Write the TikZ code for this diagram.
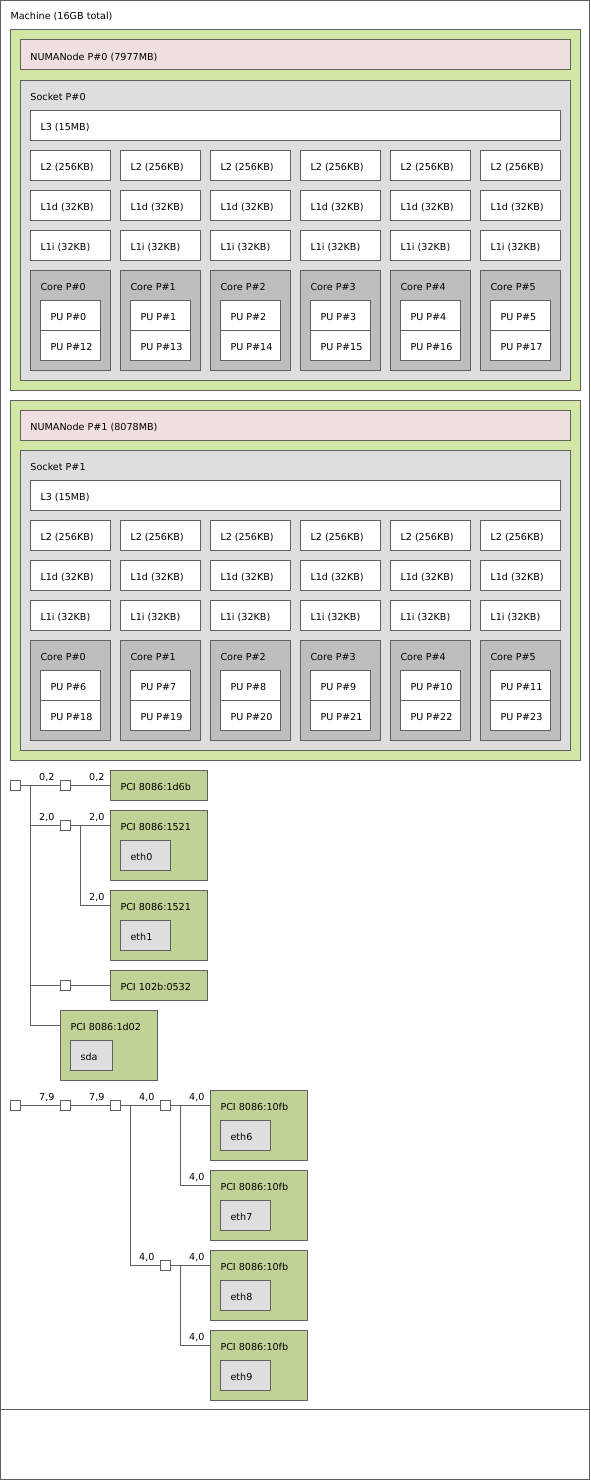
\documentclass[tikz,border=0pt]{standalone}
\usepackage{fontspec}
\setmainfont{DejaVu Sans}
\definecolor{numagreen}{RGB}{210, 231, 164}
\definecolor{mempink}{RGB}{239, 223, 222}
\definecolor{sockgray}{RGB}{222, 222, 222}
\definecolor{coregray}{RGB}{190, 190, 190}
\definecolor{pcigreen}{RGB}{192, 210, 150}
\definecolor{osdevgray}{RGB}{222, 222, 222}
\definecolor{edgegray}{RGB}{96, 96, 96}
\usepackage{tikz}
\usetikzlibrary{positioning, calc}
\newcommand{\lstfont}{\fontsize{9.6}{11}\selectfont}

\begin{document}
\begin{tikzpicture}[x=1pt, y=-1pt, line width=1pt,
  obj/.style={draw=edgegray, rectangle, inner sep=0pt, outer sep=0pt, anchor=north west},
  tag/.style={font=\lstfont, anchor=base west, inner sep=0pt},
  bridge/.style={obj, fill=white, minimum size=10},
  pcidev/.style={obj, fill=pcigreen, minimum width=97},
  osdev/.style={obj, fill=osdevgray, minimum height=30},
  wire/.style={draw=edgegray},
  link/.style={font=\lstfont, anchor=base east, inner sep=0pt, xshift=-5pt, yshift=5pt}]
  \useasboundingbox (0,0) rectangle (590,1480);

  % Machine and legend
  \node[obj, fill=white, minimum width=589, minimum height=1409] (machine) at (0.5,0.5) {};
  \node[tag] (machine-t) at (10,20) {Machine (16GB total)};
  \node[obj, fill=white, minimum width=589, minimum height=70] (legend) at (0.5,1409.5) {};

  % NUMA node 0
  \begin{scope}
    \node[obj, fill=numagreen, minimum width=570, minimum height=360] (numa0) at (10,30) {};
    \node[obj, fill=mempink, minimum width=550, minimum height=30] (mem0) at (20,40) {};
    \node[tag] (mem0-t) at (30,60) {NUMANode P\#0 (7977MB)};
    \node[obj, fill=sockgray, minimum width=550, minimum height=300] (sock0) at (20,80) {};
    \node[tag] (sock0-t) at (30,100) {Socket P\#0};
    \node[obj, fill=white, minimum width=530, minimum height=30] (l3-0) at (30,110) {};
    \node[tag] (l3-0-t) at (40,130) {L3 (15MB)};
    \foreach \i [evaluate=\i as \pa using int(\i), evaluate=\i as \pb using int(\i+12)] in {0,...,5} {
      \node[obj, fill=white, minimum width=80, minimum height=30] (s0-l2-\i) at (30+90*\i,150) {};
      \node[tag] (s0-l2-\i-t) at (40+90*\i,170) {L2 (256KB)};
      \node[obj, fill=white, minimum width=80, minimum height=30] (s0-l1d-\i) at (30+90*\i,190) {};
      \node[tag] (s0-l1d-\i-t) at (40+90*\i,210) {L1d (32KB)};
      \node[obj, fill=white, minimum width=80, minimum height=30] (s0-l1i-\i) at (30+90*\i,230) {};
      \node[tag] (s0-l1i-\i-t) at (40+90*\i,250) {L1i (32KB)};
      \node[obj, fill=coregray, minimum width=80, minimum height=100] (s0-core-\i) at (30+90*\i,270) {};
      \node[tag] (s0-core-\i-t) at (40+90*\i,290) {Core P\#\i};
      \node[obj, fill=white, minimum width=60, minimum height=30] (s0-pua-\i) at (40+90*\i,300) {};
      \node[tag] (s0-pua-\i-t) at (50+90*\i,320) {PU P\#\pa};
      \node[obj, fill=white, minimum width=60, minimum height=30] (s0-pub-\i) at (40+90*\i,330) {};
      \node[tag] (s0-pub-\i-t) at (50+90*\i,350) {PU P\#\pb};
    }
  \end{scope}

  % NUMA node 1
  \begin{scope}[shift={(0,370)}]
    \node[obj, fill=numagreen, minimum width=570, minimum height=360] (numa1) at (10,30) {};
    \node[obj, fill=mempink, minimum width=550, minimum height=30] (mem1) at (20,40) {};
    \node[tag] (mem1-t) at (30,60) {NUMANode P\#1 (8078MB)};
    \node[obj, fill=sockgray, minimum width=550, minimum height=300] (sock1) at (20,80) {};
    \node[tag] (sock1-t) at (30,100) {Socket P\#1};
    \node[obj, fill=white, minimum width=530, minimum height=30] (l3-1) at (30,110) {};
    \node[tag] (l3-1-t) at (40,130) {L3 (15MB)};
    \foreach \i [evaluate=\i as \pa using int(\i+6), evaluate=\i as \pb using int(\i+18)] in {0,...,5} {
      \node[obj, fill=white, minimum width=80, minimum height=30] (s1-l2-\i) at (30+90*\i,150) {};
      \node[tag] (s1-l2-\i-t) at (40+90*\i,170) {L2 (256KB)};
      \node[obj, fill=white, minimum width=80, minimum height=30] (s1-l1d-\i) at (30+90*\i,190) {};
      \node[tag] (s1-l1d-\i-t) at (40+90*\i,210) {L1d (32KB)};
      \node[obj, fill=white, minimum width=80, minimum height=30] (s1-l1i-\i) at (30+90*\i,230) {};
      \node[tag] (s1-l1i-\i-t) at (40+90*\i,250) {L1i (32KB)};
      \node[obj, fill=coregray, minimum width=80, minimum height=100] (s1-core-\i) at (30+90*\i,270) {};
      \node[tag] (s1-core-\i-t) at (40+90*\i,290) {Core P\#\i};
      \node[obj, fill=white, minimum width=60, minimum height=30] (s1-pua-\i) at (40+90*\i,300) {};
      \node[tag] (s1-pua-\i-t) at (50+90*\i,320) {PU P\#\pa};
      \node[obj, fill=white, minimum width=60, minimum height=30] (s1-pub-\i) at (40+90*\i,330) {};
      \node[tag] (s1-pub-\i-t) at (50+90*\i,350) {PU P\#\pb};
    }
  \end{scope}

  % PCI tree 0
  \node[bridge] (hb0) at (10,780) {};
  \node[bridge] (br0) at (60,780) {};
  \node[bridge] (br1) at (60,820) {};
  \node[bridge] (br2) at (60,980) {};
  \node[pcidev, minimum height=30] (pci1d6b) at (110,770) {};
  \node[tag] (pci1d6b-t) at (120,790) {PCI 8086:1d6b};
  \node[pcidev, minimum height=70] (pci1521a) at (110,810) {};
  \node[tag] (pci1521a-t) at (120,830) {PCI 8086:1521};
  \node[osdev, minimum width=50] (eth0) at (120,840) {};
  \node[tag] (eth0-t) at (130,860) {eth0};
  \node[pcidev, minimum height=70] (pci1521b) at (110,890) {};
  \node[tag] (pci1521b-t) at (120,910) {PCI 8086:1521};
  \node[osdev, minimum width=50] (eth1) at (120,920) {};
  \node[tag] (eth1-t) at (130,940) {eth1};
  \node[pcidev, minimum height=30] (pci0532) at (110,970) {};
  \node[tag] (pci0532-t) at (120,990) {PCI 102b:0532};
  \node[pcidev, minimum height=70] (pci1d02) at (60,1010) {};
  \node[tag] (pci1d02-t) at (70,1030) {PCI 8086:1d02};
  \node[osdev, minimum width=42] (sda) at (70,1040) {};
  \node[tag] (sda-t) at (80,1060) {sda};

  \draw[wire] (hb0.east) -- (br0.west) node[link] (lk0) {0,2};
  \draw[wire] (br0.east) -- (pci1d6b.west) node[link] (lk1) {0,2};
  \draw[wire] ($(hb0.east)+(10,0)$) |- (br1.west) node[link] (lk2) {2,0};
  \draw[wire] (br1.east) -- (br1.east -| pci1521a.west) node[link] (lk3) {2,0};
  \draw[wire] ($(br1.east)+(10,0)$) |- ($(pci1521b.north west)+(0,15)$) node[link] (lk4) {2,0};
  \draw[wire] ($(hb0.east)+(10,0)$) |- (br2.west);
  \draw[wire] (br2.east) -- (pci0532.west);
  \draw[wire] ($(hb0.east)+(10,0)$) |- ($(pci1d02.north west)+(0,15)$);

  % PCI tree 1
  \node[bridge] (hb1) at (10,1100) {};
  \node[bridge] (br3) at (60,1100) {};
  \node[bridge] (br4) at (110,1100) {};
  \node[bridge] (br5) at (160,1100) {};
  \node[bridge] (br6) at (160,1260) {};
  \foreach \k/\y/\e in {a/1090/6, b/1170/7, c/1250/8, d/1330/9} {
    \node[pcidev, minimum height=70] (pci10fb\k) at (210,\y) {};
    \node[tag] (pci10fb\k-t) at (220,\y+20) {PCI 8086:10fb};
    \node[osdev, minimum width=50] (eth\e) at (220,\y+30) {};
    \node[tag] (eth\e-t) at (230,\y+50) {eth\e};
  }

  \draw[wire] (hb1.east) -- (br3.west) node[link] (lk5) {7,9};
  \draw[wire] (br3.east) -- (br4.west) node[link] (lk6) {7,9};
  \draw[wire] (br4.east) -- (br5.west) node[link] (lk7) {4,0};
  \draw[wire] ($(br4.east)+(10,0)$) |- (br6.west) node[link] (lk8) {4,0};
  \draw[wire] (br5.east) -- (br5.east -| pci10fba.west) node[link] (lk9) {4,0};
  \draw[wire] ($(br5.east)+(10,0)$) |- ($(pci10fbb.north west)+(0,15)$) node[link] (lk10) {4,0};
  \draw[wire] (br6.east) -- (br6.east -| pci10fbc.west) node[link] (lk11) {4,0};
  \draw[wire] ($(br6.east)+(10,0)$) |- ($(pci10fbd.north west)+(0,15)$) node[link] (lk12) {4,0};
\end{tikzpicture}
\end{document}
